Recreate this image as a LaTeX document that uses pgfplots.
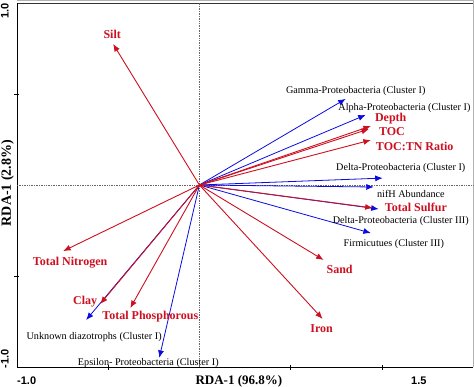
\documentclass[border=0pt]{standalone}
\usepackage{pgfplots}
\pgfplotsset{compat=1.18}
\usepackage{fontspec}
\setmainfont{Liberation Serif}
\newfontfamily\arialfont{Liberation Sans}
\usetikzlibrary{arrows.meta}
\definecolor{envred}{RGB}{204,16,32}
\definecolor{bacblue}{RGB}{10,10,225}
\tikzset{
  env/.style={envred, line width=0.9pt, -{Latex[length=7.5pt,width=6pt]}},
  bac/.style={bacblue, line width=0.8pt, -{Latex[length=7.5pt,width=6pt]}},
  elab/.style={text=envred, font=\fontsize{12}{14}\selectfont\bfseries, inner sep=0pt},
  blab/.style={text=black, font=\fontsize{10.2}{12}\selectfont, inner sep=0pt},
}
\begin{document}
\begin{tikzpicture}
\begin{axis}[name=ax, scale only axis, width=456pt, height=364pt,
  xmin=-1, xmax=1.5, ymin=-1, ymax=1, clip=false,
  axis line style={draw=none},
  xtick={-0.5,0.5,1}, ytick={-0.5,0.5},
  xticklabels={}, yticklabels={},
  xtick pos=left, ytick pos=left,
  tick align=center, major tick length=5pt,
  tick style={black, thin},
]
% frame
\draw[gray!60, line width=1.5pt] (rel axis cs:0,1.008) -- (rel axis cs:1.002,1.008) -- (rel axis cs:1.002,0);
\draw[black!80, line width=0.8pt] (rel axis cs:0,1) -- (rel axis cs:1,1);
\draw[black, line width=0.8pt] (rel axis cs:0,1) -- (rel axis cs:0,0) -- (rel axis cs:1,0);
% dotted center lines
\draw[black!60, densely dotted, line width=0.7pt] (axis cs:-1,0) -- (axis cs:1.5,0);
\draw[black!60, densely dotted, line width=0.7pt] (axis cs:0,-1) -- (axis cs:0,1);

% blue arrows (bacteria)
\addplot[bac] coordinates {(0,0) (0.802,0.473)};
\addplot[bac] coordinates {(0,0) (0.912,0.385)};
\addplot[bac] coordinates {(0,0) (1.005,0.038)};
\addplot[bac] coordinates {(0,0) (0.956,-0.011)};
\addplot[bac] coordinates {(0,0) (0.983,-0.132)};
\addplot[bac] coordinates {(0,0) (0.940,-0.264)};
\addplot[bac] coordinates {(0,0) (-0.621,-0.742)};
\addplot[bac] coordinates {(0,0) (-0.220,-0.950)};
% red arrows (environment)
\addplot[env] coordinates {(0,0) (-0.473,0.775)};
\addplot[env] coordinates {(0,0) (0.940,0.324)};
\addplot[env] coordinates {(0,0) (0.930,0.308)};
\addplot[env] coordinates {(0,0) (0.940,0.247)};
\addplot[env] coordinates {(0,0) (0.950,-0.126)};
\addplot[env] coordinates {(0,0) (0.681,-0.412)};
\addplot[env] coordinates {(0,0) (0.676,-0.736)};
\addplot[env] coordinates {(0,0) (-0.747,-0.363)};
\addplot[env] coordinates {(0,0) (-0.544,-0.654)};
\addplot[env] coordinates {(0,0) (-0.379,-0.676)};

% labels
\node[elab] at (axis cs:-0.478,0.830) {Silt};
\node[blab] at (axis cs:0.857,0.516) {Gamma-Proteobacteria (Cluster I)};
\node[blab, anchor=east] at (axis cs:1.487,0.423) {Alpha-Proteobacteria (Cluster I)};
\node[elab, anchor=west] at (axis cs:0.962,0.363) {Depth};
\node[elab, anchor=west] at (axis cs:0.984,0.291) {TOC};
\node[elab, anchor=west] at (axis cs:0.967,0.214) {TOC:TN Ratio};
\node[blab] at (axis cs:1.104,0.093) {Delta-Proteobacteria (Cluster I)};
\node[blab, anchor=west] at (axis cs:0.973,-0.049) {nifH Abundance};
\node[elab, anchor=west] at (axis cs:1.016,-0.121) {Total Sulfur};
\node[blab] at (axis cs:1.104,-0.198) {Delta-Proteobacteria (Cluster III)};
\node[blab] at (axis cs:1.066,-0.324) {Firmicutues (Cluster III)};
\node[elab] at (axis cs:0.769,-0.462) {Sand};
\node[elab] at (axis cs:0.670,-0.791) {Iron};
\node[elab] at (axis cs:-0.709,-0.429) {Total Nitrogen};
\node[elab] at (axis cs:-0.626,-0.643) {Clay};
\node[elab] at (axis cs:-0.269,-0.725) {Total Phosphorous};
\node[blab] at (axis cs:-0.577,-0.835) {Unknown diazotrophs (Cluster I)};
\node[blab] at (axis cs:-0.280,-0.978) {Epsilon- Proteobacteria (Cluster I)};

% axis texts
\node[rotate=90, font=\arialfont\fontsize{11}{12}\selectfont\bfseries, inner sep=0pt] at (axis cs:-1.066,0.955) {1.0};
\node[rotate=90, font=\arialfont\fontsize{11}{12}\selectfont\bfseries, inner sep=0pt] at (axis cs:-1.066,-0.955) {-1.0};
\node[rotate=90, font=\fontsize{14}{16}\selectfont\bfseries, inner sep=0pt] at (axis cs:-1.052,0.011) {RDA-1 (2.8\%)};
\node[anchor=west, font=\arialfont\fontsize{11}{12}\selectfont\bfseries, inner sep=0pt] at (axis cs:-1.0,-1.077) {-1.0};
\node[font=\arialfont\fontsize{11}{12}\selectfont\bfseries, inner sep=0pt] at (axis cs:1.203,-1.077) {1.5};
\node[anchor=west, font=\fontsize{13}{15}\selectfont\bfseries, inner sep=0pt] at (axis cs:-0.022,-1.077) {RDA-1 (96.8\%)};
\end{axis}
\pgfresetboundingbox
\path[use as bounding box] ([xshift=-17pt,yshift=-19pt]ax.south west) rectangle ([xshift=1pt,yshift=3pt]ax.north east);
\end{tikzpicture}
\end{document}
